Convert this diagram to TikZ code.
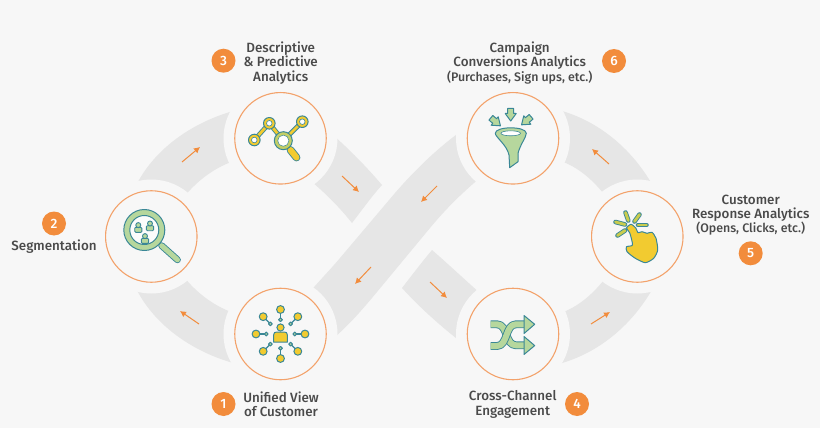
\documentclass[tikz,border=0pt]{standalone}
\usepackage{fontspec}
\setmainfont{Fira Sans Medium}
\usetikzlibrary{arrows.meta}
\definecolor{bgc}{HTML}{F7F7F7}
\definecolor{bandc}{HTML}{E6E6E6}
\definecolor{orangec}{HTML}{F28C3C}
\definecolor{ringc}{HTML}{F3A26B}
\definecolor{textc}{HTML}{4A4A4A}
\definecolor{tealc}{HTML}{3A8796}
\definecolor{greenc}{HTML}{B6D79D}
\definecolor{yellowc}{HTML}{F2CB30}
\definecolor{olivec}{HTML}{C9CC4E}
\tikzset{
  stepring/.style={circle,draw=ringc,line width=1.1pt,minimum size=91.5pt,inner sep=0pt},
  gapdisc/.style={circle,fill=bgc,minimum size=114pt,inner sep=0pt},
  badge/.style={circle,fill=orangec,text=white,minimum size=24pt,inner sep=0pt,font=\fontsize{13.5}{13.5}\selectfont},
  steptext/.style={align=center,text=textc,inner sep=0pt,font=\fontsize{13.4}{14.3}\selectfont},
  flowarrow/.style={-{Latex[length=6pt,width=6.5pt]},orangec,line width=1pt},
  iconline/.style={draw=tealc,line width=0.9pt,double=#1,double distance=2.8pt,line cap=round,line join=round},
  iconshape/.style={draw=tealc,line width=1pt,fill=#1,line join=round}
}
\newcommand{\smalltext}{\fontsize{12.4}{14.3}\selectfont}
\begin{document}
\begin{tikzpicture}[x=1pt,y=-1pt]
    \useasboundingbox (0,0) rectangle (820,428);
    \fill[bgc] (0,0) rectangle (820,428);

    % BAND
    \fill[bandc] (130,200) .. controls (145,155) and (190,120) .. (245,108)
      -- (245,158) .. controls (220,163) and (195,180) .. (178,205) -- cycle;
    \fill[bandc] (130,274) .. controls (145,319) and (190,354) .. (245,366)
      -- (245,316) .. controls (220,311) and (195,294) .. (178,269) -- cycle;
    \fill[bandc] (550,108) .. controls (600,118) and (640,155) .. (660,200)
      -- (612,205) .. controls (595,180) and (575,163) .. (550,158) -- cycle;
    \fill[bandc] (550,366) .. controls (600,356) and (640,319) .. (660,274)
      -- (612,269) .. controls (595,294) and (575,311) .. (550,316) -- cycle;
    \fill[bandc] (325,128) .. controls (345,145) and (365,165) .. (382,185)
      .. controls (372,196) and (362,210) .. (352,223)
      .. controls (340,208) and (325,192) .. (300,172) -- cycle;
    \fill[bandc] (432,250) .. controls (446,262) and (465,280) .. (490,302)
      -- (470,349) .. controls (445,330) and (422,310) .. (402,288)
      .. controls (412,275) and (422,262) .. (432,250) -- cycle;
    \fill[bandc] (470,125) .. controls (440,145) and (415,170) .. (395,193)
      -- (340,258) .. controls (330,270) and (318,282) .. (300,303)
      -- (325,345) .. controls (345,330) and (360,312) .. (372,298)
      -- (430,228) .. controls (445,210) and (462,192) .. (492,168) -- cycle;

    % STEPS
    \foreach \n/\x/\y in {one/280.5/334,two/151.3/236.5,three/280.5/138.3,
                          four/513/334,five/637.3/236.5,six/513/138.3} {
      \node[gapdisc] (gap\n) at (\x,\y) {};
      \node[stepring] (ring\n) at (\x,\y) {};
    }

    % FLOW ARROWS
    \foreach \n/\xa/\ya/\xb/\yb in {a/182/162/200/147,b/199/324/180/311,c/342/176/359/192,
        d/437/186/421/202,e/371/267/355/284,f/430/282/447/298,g/591/324/610/312,h/609/164/592/149} {
      \coordinate (\n from) at (\xa,\ya);
      \coordinate (\n to) at (\xb,\yb);
      \draw[flowarrow] (\n from) -- (\n to);
    }

    % BADGES
    \node[badge] (badgeone) at (223.5,404) {1};
    \node[badge] (badgetwo) at (54,223.5) {2};
    \node[badge] (badgethree) at (223.5,60.7) {3};
    \node[badge] (badgefour) at (577,404) {4};
    \node[badge] (badgefive) at (750.7,253.3) {5};
    \node[badge] (badgesix) at (614,61) {6};

    % LABELS
    \node[steptext] (labelone) at (281,404.4) {Unified View\\of Customer};
    \node[steptext] (labeltwo) at (54,246.6) {Segmentation};
    \node[steptext] (labelthree) at (280.7,63) {Descriptive\\\& Predictive\\Analytics};
    \node[steptext] (labelfour) at (512.7,404.4) {Cross-Channel\\Engagement};
    \node[steptext] (labelfive) at (750.7,215) {Customer\\Response Analytics\\{\smalltext (Opens, Clicks, etc.)}};
    \node[steptext] (labelsix) at (519.7,63) {Campaign\\Conversions Analytics\\{\smalltext (Purchases, Sign ups, etc.)}};

    % ICON 1
    \foreach \a in {0,45,...,315} {
      \draw[draw=tealc,line width=1.2pt] (280.5,334)++(\a:14.3) -- ++(\a:10);
      \draw[iconshape=yellowc] (280.5,334)++(\a:24.5) circle (3.9);
      \draw[iconshape=greenc] (280.5,334)++(\a:14.3) circle (1.9);
    }
    \draw[iconshape=yellowc] (273.6,342.2) -- (273.6,335) .. controls (273.6,332.5) and (275,332) .. (277,332)
      -- (284,332) .. controls (286,332) and (287.4,332.5) .. (287.4,335) -- (287.4,342.2) -- cycle;
    \draw[iconshape=yellowc] (280.5,327.5) circle (3.6);

    % ICON 2
    \draw[iconline=greenc,double distance=5pt] (161.7,245.7) -- (177.5,259.8);
    \draw[iconshape=greenc] (144.3,230) circle (20.5);
    \draw[draw=tealc,line width=1pt,fill=bgc!40!white] (144.3,230) circle (14.5);
    \foreach \x/\y in {138.3/227.3,150/225.7,145/238.3} {
      \draw[draw=tealc,line width=0.9pt,fill=greenc,rounded corners=1pt] (\x-3.6,\y+5) rectangle (\x+3.6,\y);
      \draw[draw=tealc,line width=0.9pt,fill=greenc] (\x,\y-2.2) circle (2.5);
    }

    % ICON 3
    \draw[iconline=yellowc] (254.3,140) -- (269.3,123.3) -- (283.3,140.7) -- (302.3,121.7);
    \draw[iconline=yellowc,double distance=6pt] (290.5,150) -- (296.5,157.5);
    \foreach \x/\y in {254.3/140,269.3/123.3,302.3/121.7} {
      \draw[iconshape=yellowc] (\x,\y) circle (5.8);
      \draw[draw=tealc,line width=0.6pt,fill=white] (\x,\y) circle (2.8);
    }
    \draw[iconshape=olivec!70!greenc] (283.3,140.7) circle (9);
    \draw[fill=white,draw=tealc,line width=0.5pt] (283.3,140.7) circle (5.6);

    % ICON 4
    \draw[iconline=greenc,double distance=6pt,line cap=butt] (490.5,324.3) -- (497,324.3)
      .. controls (508,324.3) and (505,345.3) .. (516,345.3) -- (526,345.3);
    \draw[iconline=greenc,double distance=6pt,line cap=butt] (490.5,346) -- (497,346)
      .. controls (508,346) and (505,324.3) .. (516,324.3) -- (526,324.3);
    \draw[iconshape=greenc] (524,315.5) -- (534.7,324.3) -- (524,333.5) -- cycle;
    \draw[iconshape=greenc] (524,336.5) -- (534.7,345.6) -- (524,354.5) -- cycle;

    % ICON 5
    \draw[iconline=olivec] (625.5,212.5) -- (628.3,220.5);
    \draw[iconline=olivec] (639.5,214.5) -- (634.5,221.5);
    \draw[iconline=olivec] (615.5,222) -- (625,224.5);
    \draw[iconline=olivec] (638,225) -- (646.5,225);
    \draw[iconline=olivec] (617.5,235.5) -- (625,230.5);
    \draw[iconshape=yellowc,smooth cycle,tension=0.4] plot coordinates {(626.5,228) (631,224.3) (635.8,228) (638,232.7)
      (642,231.7) (647,233.3) (652,232.3) (656,238.3) (657.7,250) (653.7,258.3) (645.3,262.7)
      (635.3,258.3) (627,251.7) (626.5,246.7) (632.5,245) (629.8,233)};

    % ICON 6
    \foreach \x/\y/\r in {510.7/113.5/0,494.7/121/50,527.3/120/-50} {
      \begin{scope}[shift={(\x,\y)},rotate=\r]
        \draw[iconshape=greenc] (0,7.5) -- (-5.5,0) -- (-3,0) -- (-3,-5) -- (3,-5) -- (3,0) -- (5.5,0) -- cycle;
      \end{scope}
    }
    \draw[iconshape=greenc] (495.3,133.3) .. controls (495.3,126) and (526.3,126) .. (526.3,133.3)
      .. controls (526.3,137) and (520,145) .. (518,153.3) -- (518,161.7) -- (509.7,167.7) -- (509,155)
      .. controls (507,145) and (495.3,137) .. (495.3,133.3) -- cycle;
    \draw[draw=tealc,line width=0.6pt,fill=white] (510.7,133.3) ellipse (9.8 and 2.5);
  \end{tikzpicture}
\end{document}
